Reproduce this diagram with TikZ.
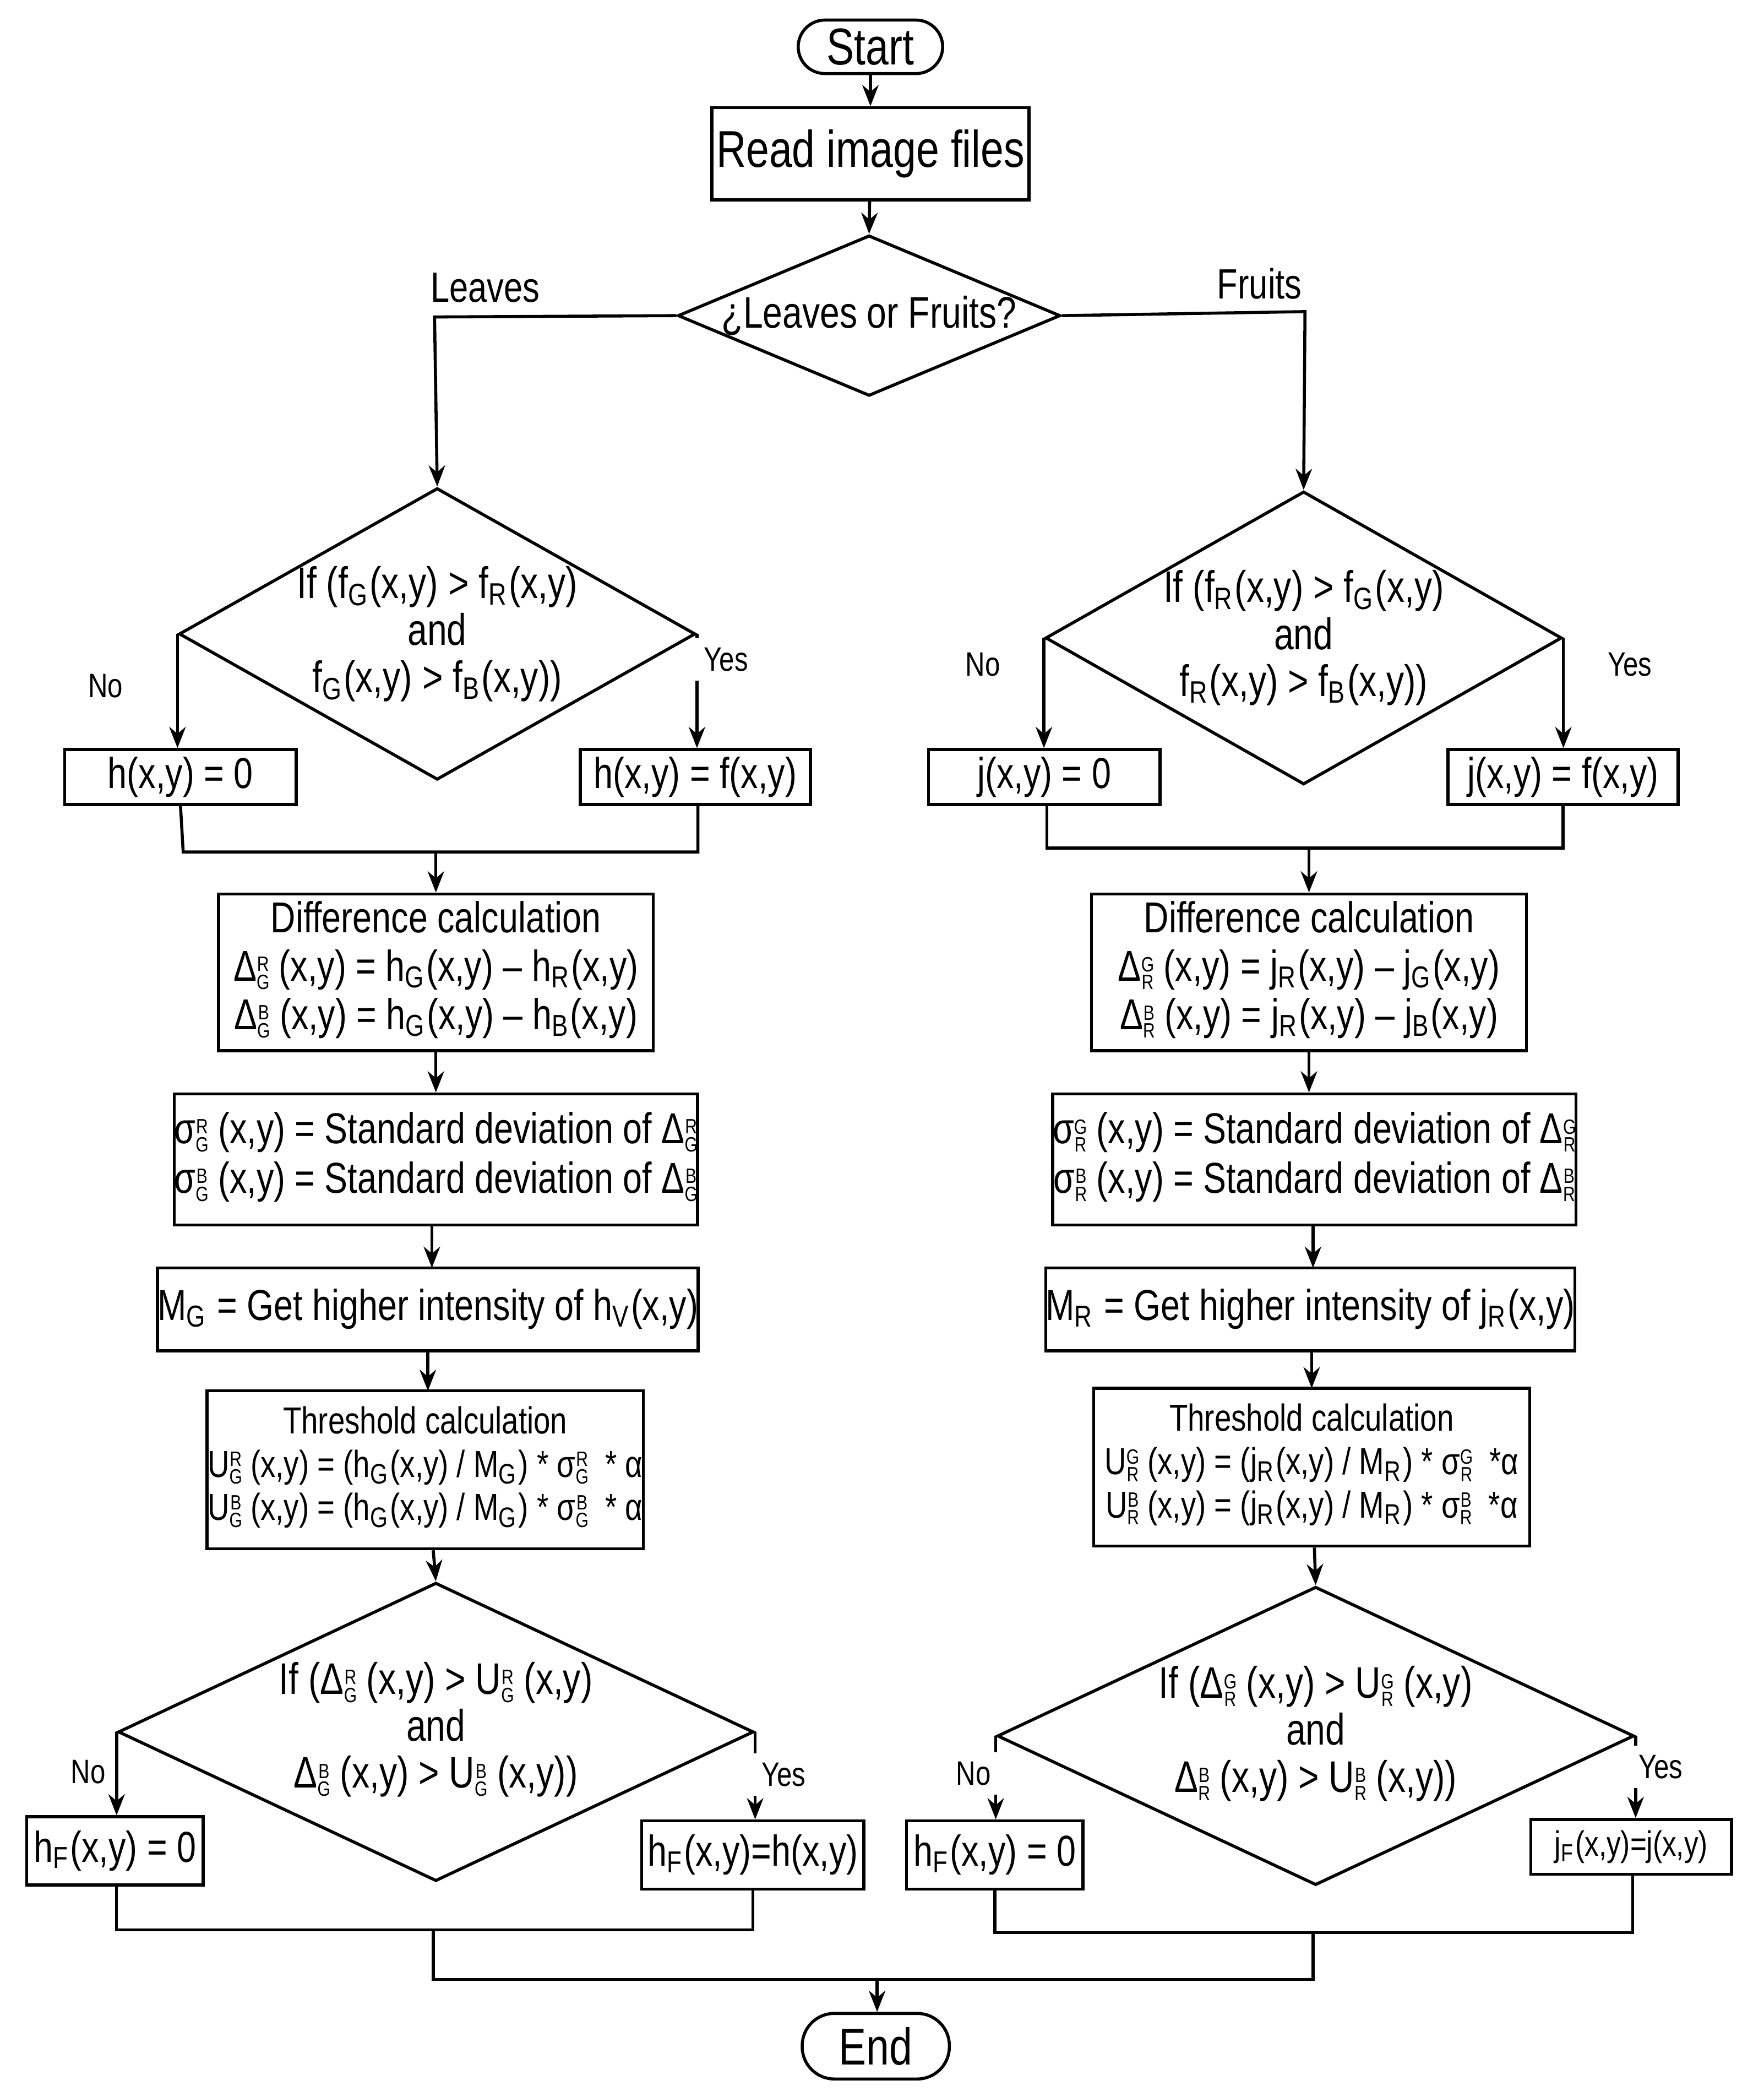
\documentclass[tikz,border=0pt]{standalone}
\usepackage{fontspec}
\setmainfont{Liberation Sans}[FakeStretch=0.8]
\usetikzlibrary{shapes.geometric,arrows.meta}
\newcommand\sbs[1]{\textsubscript{#1}}
\newcommand\ud[2]{\raisebox{-0.35ex}{\fontsize{4.4}{4}\selectfont\begin{tabular}[b]{@{}c@{}}#1\\[-0.2ex]#2\end{tabular}}}
\begin{document}
\begin{tikzpicture}[x=0.01cm,y=-0.01cm,line width=0.65pt,
 box/.style={draw,rectangle,inner sep=0pt,align=center,font=\fontsize{9.2}{10.5}\selectfont},
 dia/.style={draw,diamond,inner sep=0pt},
 lab/.style={fill=white,inner sep=2pt,font=\fontsize{7.2}{9}\selectfont},
 dt/.style={align=center,font=\fontsize{9.4}{10}\selectfont},
 arr/.style={-{Stealth[length=4.5pt,width=3.5pt]}}]
\useasboundingbox (0,0) rectangle (1319,1568);
% top
\node[box,rounded corners=0.2cm,minimum width=1.08cm,minimum height=0.40cm,font=\fontsize{11}{13}\selectfont] (start) at (651,35) {Start};
\node[box,minimum width=2.37cm,minimum height=0.69cm,font=\fontsize{11}{13}\selectfont] (read) at (651,115) {Read image files};
\node[dia,minimum width=2.86cm,minimum height=1.20cm] (d0) at (650,236) {};
\node[dt] at (650,236) {¿Leaves or Fruits?};
\draw[arr] (start) -- (read);
\draw[arr] (read) -- (d0.north);
\node[lab,font=\fontsize{9}{11}\selectfont] (lv) at (363,215) {Leaves};
\node[lab,font=\fontsize{9}{11}\selectfont] (fr) at (942,212) {Fruits};
% second diamonds
\node[dia,minimum width=3.86cm,minimum height=2.18cm] (dl) at (327,474) {};
\node[dt] at (327,474) {If (f\sbs{G}(x,y) > f\sbs{R}(x,y)\\and\\f\sbs{G}(x,y) > f\sbs{B}(x,y))};
\node[dia,minimum width=3.86cm,minimum height=2.19cm] (dr) at (975,477) {};
\node[dt] at (975,477) {If (f\sbs{R}(x,y) > f\sbs{G}(x,y)\\and\\f\sbs{R}(x,y) > f\sbs{B}(x,y))};
\draw[arr] (d0.west) -- (325,237) -- (dl.north);
\draw[arr] (d0.east) -- (976,233) -- (dr.north);
\node[box,minimum width=1.73cm,minimum height=0.41cm] (h0) at (135,581) {h(x,y) = 0};
\node[box,minimum width=1.72cm,minimum height=0.41cm] (hf) at (520,581) {h(x,y) = f(x,y)};
\node[box,minimum width=1.73cm,minimum height=0.41cm] (j0) at (781,581) {j(x,y) = 0};
\node[box,minimum width=1.72cm,minimum height=0.41cm] (jf) at (1169,581) {j(x,y) = f(x,y)};
\draw[arr] (dl.west) -- (h0.north -| dl.west);
\draw[arr] (dl.east) -- (hf.north -| dl.east);
\draw[arr] (dr.west) -- (j0.north -| dr.west);
\draw[arr] (dr.east) -- (jf.north -| dr.east);
\node[lab] at (79,513) {No};
\node[lab] at (543,493) {Yes};
\node[lab] at (735,497) {No};
\node[lab] at (1219,497) {Yes};
% difference
\node[box,minimum width=3.25cm,minimum height=1.17cm,font=\fontsize{9.2}{10.3}\selectfont] (difl) at (326,727) {Difference calculation\\
 Δ\ud{R}{G} (x,y) = h\sbs{G}(x,y) – h\sbs{R}(x,y)\\ Δ\ud{B}{G} (x,y) = h\sbs{G}(x,y) – h\sbs{B}(x,y)};
\node[box,minimum width=3.25cm,minimum height=1.17cm,font=\fontsize{9.2}{10.3}\selectfont] (difr) at (979,727) {Difference calculation\\
 Δ\ud{G}{R} (x,y) = j\sbs{R}(x,y) – j\sbs{G}(x,y)\\ Δ\ud{B}{R} (x,y) = j\sbs{R}(x,y) – j\sbs{B}(x,y)};
\coordinate (ml) at (326,637);
\coordinate (mr) at (979,634);
\draw (h0.south) -- (137,637) -- (522,637) -- (hf.south -| 522,0);
\draw (j0.south -| 783,0) -- (783,634) -- (1169,634) -- (jf.south);
\draw[arr] (ml) -- (difl.north);
\draw[arr] (mr) -- (difr.north);
% sigma
\node[box,minimum width=3.89cm,minimum height=0.98cm,font=\fontsize{9.2}{10.5}\selectfont] (sgl) at (326,867) {σ\ud{R}{G} (x,y) = Standard deviation of Δ\ud{R}{G}\\ σ\ud{B}{G} (x,y) = Standard deviation of Δ\ud{B}{G}};
\node[box,minimum width=3.89cm,minimum height=0.98cm,font=\fontsize{9.2}{10.5}\selectfont] (sgr) at (983,867) {σ\ud{G}{R} (x,y) = Standard deviation of Δ\ud{G}{R}\\ σ\ud{B}{R} (x,y) = Standard deviation of Δ\ud{B}{R}};
\draw[arr] (difl) -- (difl.south |- sgl.north);
\draw[arr] (difr) -- (difr.south |- sgr.north);
% M
\node[box,minimum width=3.84cm,minimum height=0.62cm] (mgl) at (320,979) {M\sbs{G} = Get higher intensity of h\sbs{V}(x,y)};
\node[box,minimum width=3.84cm,minimum height=0.62cm] (mgr) at (980,979) {M\sbs{R} = Get higher intensity of j\sbs{R}(x,y)};
\draw[arr] (323,916) -- (323,948);
\draw[arr] (982,916) -- (982,948);
% threshold
\node[box,minimum width=3.26cm,minimum height=1.18cm,font=\fontsize{8}{9.2}\selectfont] (thl) at (318,1099) {Threshold calculation\\
 U\ud{R}{G} (x,y) = (h\sbs{G}(x,y) / M\sbs{G}) * σ\ud{R}{G} \ * α\\
 U\ud{B}{G} (x,y) = (h\sbs{G}(x,y) / M\sbs{G}) * σ\ud{B}{G} \ * α};
\node[box,minimum width=3.26cm,minimum height=1.18cm,font=\fontsize{8}{9.2}\selectfont] (thr) at (981,1097) {Threshold calculation\\
 U\ud{G}{R} (x,y) = (j\sbs{R}(x,y) / M\sbs{R}) * σ\ud{G}{R} \ *α\\
 U\ud{B}{R} (x,y) = (j\sbs{R}(x,y) / M\sbs{R}) * σ\ud{B}{R} \ *α};
\draw[arr] (320,1010) -- (320,1040);
\draw[arr] (981,1010) -- (981,1038);
% bottom diamonds
\node[dia,minimum width=4.75cm,minimum height=2.23cm] (bl) at (326,1295) {};
\node[dt] at (326,1295) {If (Δ\ud{R}{G} (x,y) > U\ud{R}{G} (x,y)\\and\\Δ\ud{B}{G} (x,y) > U\ud{B}{G} (x,y))};
\node[dia,minimum width=4.76cm,minimum height=2.23cm] (br) at (984,1298) {};
\node[dt] at (984,1298) {If (Δ\ud{G}{R} (x,y) > U\ud{G}{R} (x,y)\\and\\Δ\ud{B}{R} (x,y) > U\ud{B}{R} (x,y))};
\draw[arr] (thl.south -| 324,0) -- (bl.north);
\draw[arr] (thr.south -| 983,0) -- (br.north);
\node[box,minimum width=1.32cm,minimum height=0.51cm] (hfl0) at (86,1384) {h\sbs{F}(x,y) = 0};
\node[box,minimum width=1.66cm,minimum height=0.51cm] (hfl1) at (563,1387) {h\sbs{F}(x,y)=h(x,y)};
\node[box,minimum width=1.32cm,minimum height=0.51cm] (hfr0) at (744,1387) {h\sbs{F}(x,y) = 0};
\node[box,minimum width=1.50cm,minimum height=0.41cm,font=\fontsize{7.5}{9}\selectfont] (jfr) at (1220,1381) {j\sbs{F}(x,y)=j(x,y)};
\draw[arr] (bl.west) -- (hfl0.north -| bl.west);
\draw[arr] (bl.east) -- (hfl1.north -| bl.east);
\draw[arr] (br.west) -- (hfr0.north -| br.west);
\draw[arr] (br.east) -- (jfr.north -| br.east);
\node[lab] at (66,1325) {No};
\node[lab] at (586,1327) {Yes};
\node[lab] at (728,1326) {No};
\node[lab] at (1242,1321) {Yes};
% merge
\draw (hfl0.south -| 87,0) -- (87,1443) -- (563,1443) -- (hfl1.south -| 563,0);
\draw (hfr0.south) -- (744,1445) -- (1221,1445) -- (jfr.south -| 1221,0);
\draw (324,1443) -- (324,1480) -- (982,1480) -- (982,1445);
\node[box,rounded corners=0.24cm,minimum width=1.10cm,minimum height=0.49cm,font=\fontsize{11}{13}\selectfont] (end) at (655,1530) {End};
\coordinate (mb) at (656,1480);
\draw[arr] (mb) -- (end.north -| mb);
\end{tikzpicture}
\end{document}
